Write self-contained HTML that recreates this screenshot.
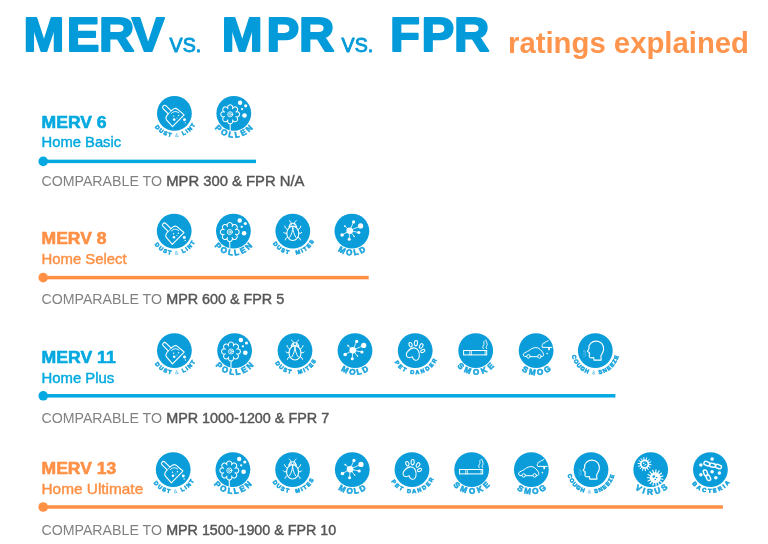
<!DOCTYPE html>
<html lang="en">
<head>
<meta charset="utf-8">
<title>MERV vs. MPR vs. FPR ratings explained</title>
<style>
html,body{margin:0;padding:0;background:#fff;}
body{width:768px;height:544px;overflow:hidden;font-family:"Liberation Sans",sans-serif;}
svg{display:block;}
svg text{font-family:"Liberation Sans",sans-serif;}
.ttl text{font-weight:700;stroke-width:2px;stroke-linejoin:round;}
.vs text{font-weight:400;stroke-width:0.9px;stroke-linejoin:round;}
.sub{font-weight:700;}
.t1{font-weight:700;font-size:17.2px;stroke-width:0.6px;stroke-linejoin:round;}
.t2{font-weight:400;font-size:14.3px;stroke-width:0.4px;}
.cmp{font-size:13.8px;}
.cl{fill:#828282;font-weight:400;}
.cb{fill:#555555;stroke:#555555;stroke-width:0.4px;font-weight:400;}
.lb{font-weight:700;stroke-width:0.6px;stroke-linejoin:round;}
</style>
</head>
<body>
<svg width="768" height="544" viewBox="0 0 768 544">
<g class="ttl" fill="#039bd9" stroke="#039bd9">
<text x="23.6 66.8 98.95 131.65" y="51.3" font-size="49">MERV</text>
<text x="221.7 266.6 299" y="51.3" font-size="49">MPR</text>
<text x="390.05 421.6 454.05" y="51.3" font-size="49">FPR</text>
</g>
<g class="vs" fill="#039bd9" stroke="#039bd9">
<text x="169.6" y="51.9" font-size="20.3" textLength="31.6" lengthAdjust="spacingAndGlyphs">VS.</text>
<text x="341.6" y="51.9" font-size="20.3" textLength="31.6" lengthAdjust="spacingAndGlyphs">VS.</text>
</g>
<text class="sub" x="508" y="52.6" font-size="29" fill="#ff944c" textLength="241" lengthAdjust="spacingAndGlyphs">ratings explained</text>
<g>
<text class="t1" x="41.6" y="127.8" fill="#03a9e0" stroke="#03a9e0" textLength="65.0" lengthAdjust="spacingAndGlyphs">MERV 6</text>
<text class="t2" x="41.5" y="146.6" fill="#03a9e0" stroke="#03a9e0" textLength="79.7" lengthAdjust="spacingAndGlyphs">Home Basic</text>
<rect x="43" y="159.65" width="213.00" height="3.5" fill="#03a9e0"/>
<circle cx="43.2" cy="161.40" r="4.8" fill="#03a9e0"/>
<text class="cmp" y="186.3"><tspan class="cl" x="41.4" textLength="120.6" lengthAdjust="spacingAndGlyphs">COMPARABLE TO</tspan> <tspan class="cb" x="166.2" textLength="138.2" lengthAdjust="spacingAndGlyphs">MPR 300 &amp; FPR N/A</tspan></text>
<g transform="translate(174.40,113.40)"><circle r="17.40" fill="#0a9dd9"/><g transform="translate(0,0.9) rotate(44.5) translate(0,1.85)" stroke="#fff" fill="none" stroke-linecap="round" stroke-linejoin="round" stroke-width="1.1">
<path d="M7.3,-8.3 L-1.8,-7.6 C-4,-7.2 -4.7,-4.6 -4.7,-2 L-11.8,-2 A2,2 0 0 0 -11.8,2 L-4.7,2 C-4.7,4.6 -4,7.2 -1.8,7.6 L7.3,8.3 Z"/>
<path d="M-4.6,-2 L-4.6,2" stroke-width="0.7"/>
<path d="M2.2,-6 C-1.4,-5.6 -2.7,-3.4 -2.7,-0.6" stroke-width="0.85"/>
</g>
<g transform="translate(0,0.9)"><circle cx="-0.7" cy="1.8" r="0.7" fill="#fff"/><circle cx="4.2" cy="1.2" r="0.7" fill="#fff"/><circle cx="-0.2" cy="5.3" r="1.3" fill="#fff"/><circle cx="2.6" cy="3.6" r="0.5" fill="#fff"/>
<circle cx="10.1" cy="5.5" r="1.45" fill="#fff"/><circle cx="11" cy="8.5" r="0.65" fill="#fff"/></g><g transform="rotate(-3.00)"><path id="p1" d="M-23.70,0 A23.70,23.70 0 0 0 23.70,0" fill="none"/><text class="lb" font-size="5.60" fill="#1ea5de" stroke="#1ea5de" textLength="48.00" lengthAdjust="spacing"><textPath href="#p1" startOffset="50%" text-anchor="middle" xml:space="preserve" textLength="48.00" lengthAdjust="spacing">DUST <tspan font-size="5.4" fill="#35ade3" stroke="none" font-weight="400">&amp;</tspan> LINT</textPath></text></g></g>

<g transform="translate(233.80,113.40)"><circle r="17.40" fill="#0a9dd9"/><g transform="translate(-3.6,0.9) scale(1.03)" stroke="#fff" fill="none" stroke-linecap="round" stroke-linejoin="round" stroke-width="1.0">
<path d="M5.45,2.26 A2.55,2.55 0 1 1 2.26,5.45 A2.55,2.55 0 1 1 -2.26,5.45 A2.55,2.55 0 1 1 -5.45,2.26 A2.55,2.55 0 1 1 -5.45,-2.26 A2.55,2.55 0 1 1 -2.26,-5.45 A2.55,2.55 0 1 1 2.26,-5.45 A2.55,2.55 0 1 1 5.45,-2.26 A2.55,2.55 0 1 1 5.45,2.26Z"/>
<circle r="2.5" stroke-width="0.8"/><circle r="1.1" stroke-width="0.7"/>
<path d="M0,9.3 L0,15.5"/>
</g>
<circle cx="6.3" cy="-10.6" r="2.2" fill="#fff"/><circle cx="11.9" cy="-7.6" r="1.6" fill="#fff"/><circle cx="8.3" cy="-4.3" r="1.15" fill="#fff"/><circle cx="10.7" cy="2.1" r="2.3" fill="#fff"/><g transform="rotate(0.00)"><path id="p2" d="M-24.20,0 A24.20,24.20 0 0 0 24.20,0" fill="none"/><text class="lb" font-size="8.10" fill="#1ea5de" stroke="#1ea5de" textLength="44.00" lengthAdjust="spacing"><textPath href="#p2" startOffset="50%" text-anchor="middle" xml:space="preserve" textLength="44.00" lengthAdjust="spacing">POLLEN</textPath></text></g></g>

</g>
<g>
<text class="t1" x="41.6" y="244.1" fill="#ff9045" stroke="#ff9045" textLength="64.9" lengthAdjust="spacingAndGlyphs">MERV 8</text>
<text class="t2" x="41.5" y="264.0" fill="#ff9045" stroke="#ff9045" textLength="85.2" lengthAdjust="spacingAndGlyphs">Home Select</text>
<rect x="43" y="275.85" width="325.70" height="3.5" fill="#ff9045"/>
<circle cx="43.2" cy="277.60" r="4.8" fill="#ff9045"/>
<text class="cmp" y="304.4"><tspan class="cl" x="41.4" textLength="120.6" lengthAdjust="spacingAndGlyphs">COMPARABLE TO</tspan> <tspan class="cb" x="166.2" textLength="118.0" lengthAdjust="spacingAndGlyphs">MPR 600 &amp; FPR 5</tspan></text>
<g transform="translate(174.20,231.10)"><circle r="17.40" fill="#0a9dd9"/><g transform="translate(0,0.9) rotate(44.5) translate(0,1.85)" stroke="#fff" fill="none" stroke-linecap="round" stroke-linejoin="round" stroke-width="1.1">
<path d="M7.3,-8.3 L-1.8,-7.6 C-4,-7.2 -4.7,-4.6 -4.7,-2 L-11.8,-2 A2,2 0 0 0 -11.8,2 L-4.7,2 C-4.7,4.6 -4,7.2 -1.8,7.6 L7.3,8.3 Z"/>
<path d="M-4.6,-2 L-4.6,2" stroke-width="0.7"/>
<path d="M2.2,-6 C-1.4,-5.6 -2.7,-3.4 -2.7,-0.6" stroke-width="0.85"/>
</g>
<g transform="translate(0,0.9)"><circle cx="-0.7" cy="1.8" r="0.7" fill="#fff"/><circle cx="4.2" cy="1.2" r="0.7" fill="#fff"/><circle cx="-0.2" cy="5.3" r="1.3" fill="#fff"/><circle cx="2.6" cy="3.6" r="0.5" fill="#fff"/>
<circle cx="10.1" cy="5.5" r="1.45" fill="#fff"/><circle cx="11" cy="8.5" r="0.65" fill="#fff"/></g><g transform="rotate(-3.00)"><path id="p3" d="M-23.70,0 A23.70,23.70 0 0 0 23.70,0" fill="none"/><text class="lb" font-size="5.60" fill="#1ea5de" stroke="#1ea5de" textLength="48.00" lengthAdjust="spacing"><textPath href="#p3" startOffset="50%" text-anchor="middle" xml:space="preserve" textLength="48.00" lengthAdjust="spacing">DUST <tspan font-size="5.4" fill="#35ade3" stroke="none" font-weight="400">&amp;</tspan> LINT</textPath></text></g></g>

<g transform="translate(233.40,231.10)"><circle r="17.40" fill="#0a9dd9"/><g transform="translate(-3.6,0.9) scale(1.03)" stroke="#fff" fill="none" stroke-linecap="round" stroke-linejoin="round" stroke-width="1.0">
<path d="M5.45,2.26 A2.55,2.55 0 1 1 2.26,5.45 A2.55,2.55 0 1 1 -2.26,5.45 A2.55,2.55 0 1 1 -5.45,2.26 A2.55,2.55 0 1 1 -5.45,-2.26 A2.55,2.55 0 1 1 -2.26,-5.45 A2.55,2.55 0 1 1 2.26,-5.45 A2.55,2.55 0 1 1 5.45,-2.26 A2.55,2.55 0 1 1 5.45,2.26Z"/>
<circle r="2.5" stroke-width="0.8"/><circle r="1.1" stroke-width="0.7"/>
<path d="M0,9.3 L0,15.5"/>
</g>
<circle cx="6.3" cy="-10.6" r="2.2" fill="#fff"/><circle cx="11.9" cy="-7.6" r="1.6" fill="#fff"/><circle cx="8.3" cy="-4.3" r="1.15" fill="#fff"/><circle cx="10.7" cy="2.1" r="2.3" fill="#fff"/><g transform="rotate(0.00)"><path id="p4" d="M-24.20,0 A24.20,24.20 0 0 0 24.20,0" fill="none"/><text class="lb" font-size="8.10" fill="#1ea5de" stroke="#1ea5de" textLength="44.00" lengthAdjust="spacing"><textPath href="#p4" startOffset="50%" text-anchor="middle" xml:space="preserve" textLength="44.00" lengthAdjust="spacing">POLLEN</textPath></text></g></g>

<g transform="translate(292.80,231.10)"><circle r="17.40" fill="#0a9dd9"/><g stroke="#fff" fill="none" stroke-linecap="round" stroke-linejoin="round" stroke-width="1.1">
<ellipse cx="0" cy="2.3" rx="6" ry="7.1"/>
<path d="M-3.5,-3.6 C-3.5,-6.5 -2,-7.8 0,-7.8 C2,-7.8 3.5,-6.5 3.5,-3.6"/>
<path d="M-3.9,-4.7 L3.9,-4.7" stroke-width="0.9"/>
<path d="M-1.5,-7.6 C-1.7,-8.8 -2.3,-9.7 -3.5,-10.5 M1.5,-7.6 C1.7,-8.8 2.3,-9.7 3.5,-10.5" stroke-width="0.95"/>
<path d="M-5.3,-1.4 L-7.5,-3.4 L-8,-5 M-5.9,2.1 L-8.3,2.1 L-9,1.2 M-5.2,6 L-7.2,7.5 L-7.5,8.8 M5.3,-1.4 L7.5,-3.4 L8,-5 M5.9,2.1 L8.3,2.1 L9,1.2 M5.2,6 L7.2,7.5 L7.5,8.8" stroke-width="0.95"/>
<path d="M0,-4.7 C0,0 -1.2,3.2 -3.1,6.2 M0,-4.7 C0,0 1.2,3.2 3.1,6.2" stroke-width="0.95"/>
</g>
<circle cx="-1.4" cy="-6.2" r="0.6" fill="#fff"/><circle cx="1.4" cy="-6.2" r="0.6" fill="#fff"/><g transform="rotate(-3.00)"><path id="p5" d="M-23.50,0 A23.50,23.50 0 0 0 23.50,0" fill="none"/><text class="lb" font-size="5.60" fill="#1ea5de" stroke="#1ea5de" textLength="50.00" lengthAdjust="spacing"><textPath href="#p5" startOffset="50%" text-anchor="middle" xml:space="preserve" textLength="50.00" lengthAdjust="spacing">DUST  MITES</textPath></text></g></g>

<g transform="translate(351.90,231.10)"><circle r="17.40" fill="#0a9dd9"/><g stroke="#fff" stroke-width="0.8" stroke-linecap="round"><path d="M-2.2,-0.4 L1.7,-9.2"/><path d="M-2.2,-0.4 L8.7,-5.2"/><path d="M-2.2,-0.4 L6.9,1.4"/><path d="M-2.2,-0.4 L2.4,5.4"/><path d="M-2.2,-0.4 L-2.7,8.1"/><path d="M-2.2,-0.4 L-9.8,3.9"/><path d="M-2.2,-0.4 L-7.0,-5.0"/></g><circle cx="-2.2" cy="-0.4" r="3.3" fill="#fff"/><circle cx="1.7" cy="-9.2" r="1.6" fill="#fff"/><circle cx="8.7" cy="-5.2" r="2.6" fill="#fff"/><circle cx="6.9" cy="1.4" r="1.6" fill="#fff"/><circle cx="2.4" cy="5.4" r="0.7" fill="#fff"/><circle cx="-2.7" cy="8.1" r="1.5" fill="#fff"/><circle cx="-9.8" cy="3.9" r="1.8" fill="#fff"/><circle cx="-7.0" cy="-5.0" r="0.9" fill="#fff"/><g transform="rotate(0.00)"><path id="p6" d="M-24.20,0 A24.20,24.20 0 0 0 24.20,0" fill="none"/><text class="lb" font-size="8.10" fill="#1ea5de" stroke="#1ea5de" textLength="30.00" lengthAdjust="spacing"><textPath href="#p6" startOffset="50%" text-anchor="middle" xml:space="preserve" textLength="30.00" lengthAdjust="spacing">MOLD</textPath></text></g></g>

</g>
<g>
<text class="t1" x="41.6" y="363.2" fill="#03a9e0" stroke="#03a9e0" textLength="74.1" lengthAdjust="spacingAndGlyphs">MERV 11</text>
<text class="t2" x="41.5" y="382.8" fill="#03a9e0" stroke="#03a9e0" textLength="72.8" lengthAdjust="spacingAndGlyphs">Home Plus</text>
<rect x="43" y="394.05" width="572.40" height="3.5" fill="#03a9e0"/>
<circle cx="43.2" cy="395.80" r="4.8" fill="#03a9e0"/>
<text class="cmp" y="422.8"><tspan class="cl" x="41.4" textLength="120.6" lengthAdjust="spacingAndGlyphs">COMPARABLE TO</tspan> <tspan class="cb" x="166.2" textLength="163.0" lengthAdjust="spacingAndGlyphs">MPR 1000-1200 &amp; FPR 7</tspan></text>
<g transform="translate(174.40,350.60)"><circle r="17.40" fill="#0a9dd9"/><g transform="translate(0,0.9) rotate(44.5) translate(0,1.85)" stroke="#fff" fill="none" stroke-linecap="round" stroke-linejoin="round" stroke-width="1.1">
<path d="M7.3,-8.3 L-1.8,-7.6 C-4,-7.2 -4.7,-4.6 -4.7,-2 L-11.8,-2 A2,2 0 0 0 -11.8,2 L-4.7,2 C-4.7,4.6 -4,7.2 -1.8,7.6 L7.3,8.3 Z"/>
<path d="M-4.6,-2 L-4.6,2" stroke-width="0.7"/>
<path d="M2.2,-6 C-1.4,-5.6 -2.7,-3.4 -2.7,-0.6" stroke-width="0.85"/>
</g>
<g transform="translate(0,0.9)"><circle cx="-0.7" cy="1.8" r="0.7" fill="#fff"/><circle cx="4.2" cy="1.2" r="0.7" fill="#fff"/><circle cx="-0.2" cy="5.3" r="1.3" fill="#fff"/><circle cx="2.6" cy="3.6" r="0.5" fill="#fff"/>
<circle cx="10.1" cy="5.5" r="1.45" fill="#fff"/><circle cx="11" cy="8.5" r="0.65" fill="#fff"/></g><g transform="rotate(-3.00)"><path id="p7" d="M-23.70,0 A23.70,23.70 0 0 0 23.70,0" fill="none"/><text class="lb" font-size="5.60" fill="#1ea5de" stroke="#1ea5de" textLength="48.00" lengthAdjust="spacing"><textPath href="#p7" startOffset="50%" text-anchor="middle" xml:space="preserve" textLength="48.00" lengthAdjust="spacing">DUST <tspan font-size="5.4" fill="#35ade3" stroke="none" font-weight="400">&amp;</tspan> LINT</textPath></text></g></g>

<g transform="translate(234.60,350.60)"><circle r="17.40" fill="#0a9dd9"/><g transform="translate(-3.6,0.9) scale(1.03)" stroke="#fff" fill="none" stroke-linecap="round" stroke-linejoin="round" stroke-width="1.0">
<path d="M5.45,2.26 A2.55,2.55 0 1 1 2.26,5.45 A2.55,2.55 0 1 1 -2.26,5.45 A2.55,2.55 0 1 1 -5.45,2.26 A2.55,2.55 0 1 1 -5.45,-2.26 A2.55,2.55 0 1 1 -2.26,-5.45 A2.55,2.55 0 1 1 2.26,-5.45 A2.55,2.55 0 1 1 5.45,-2.26 A2.55,2.55 0 1 1 5.45,2.26Z"/>
<circle r="2.5" stroke-width="0.8"/><circle r="1.1" stroke-width="0.7"/>
<path d="M0,9.3 L0,15.5"/>
</g>
<circle cx="6.3" cy="-10.6" r="2.2" fill="#fff"/><circle cx="11.9" cy="-7.6" r="1.6" fill="#fff"/><circle cx="8.3" cy="-4.3" r="1.15" fill="#fff"/><circle cx="10.7" cy="2.1" r="2.3" fill="#fff"/><g transform="rotate(0.00)"><path id="p8" d="M-24.20,0 A24.20,24.20 0 0 0 24.20,0" fill="none"/><text class="lb" font-size="8.10" fill="#1ea5de" stroke="#1ea5de" textLength="44.00" lengthAdjust="spacing"><textPath href="#p8" startOffset="50%" text-anchor="middle" xml:space="preserve" textLength="44.00" lengthAdjust="spacing">POLLEN</textPath></text></g></g>

<g transform="translate(295.00,350.60)"><circle r="17.40" fill="#0a9dd9"/><g stroke="#fff" fill="none" stroke-linecap="round" stroke-linejoin="round" stroke-width="1.1">
<ellipse cx="0" cy="2.3" rx="6" ry="7.1"/>
<path d="M-3.5,-3.6 C-3.5,-6.5 -2,-7.8 0,-7.8 C2,-7.8 3.5,-6.5 3.5,-3.6"/>
<path d="M-3.9,-4.7 L3.9,-4.7" stroke-width="0.9"/>
<path d="M-1.5,-7.6 C-1.7,-8.8 -2.3,-9.7 -3.5,-10.5 M1.5,-7.6 C1.7,-8.8 2.3,-9.7 3.5,-10.5" stroke-width="0.95"/>
<path d="M-5.3,-1.4 L-7.5,-3.4 L-8,-5 M-5.9,2.1 L-8.3,2.1 L-9,1.2 M-5.2,6 L-7.2,7.5 L-7.5,8.8 M5.3,-1.4 L7.5,-3.4 L8,-5 M5.9,2.1 L8.3,2.1 L9,1.2 M5.2,6 L7.2,7.5 L7.5,8.8" stroke-width="0.95"/>
<path d="M0,-4.7 C0,0 -1.2,3.2 -3.1,6.2 M0,-4.7 C0,0 1.2,3.2 3.1,6.2" stroke-width="0.95"/>
</g>
<circle cx="-1.4" cy="-6.2" r="0.6" fill="#fff"/><circle cx="1.4" cy="-6.2" r="0.6" fill="#fff"/><g transform="rotate(-3.00)"><path id="p9" d="M-23.50,0 A23.50,23.50 0 0 0 23.50,0" fill="none"/><text class="lb" font-size="5.60" fill="#1ea5de" stroke="#1ea5de" textLength="50.00" lengthAdjust="spacing"><textPath href="#p9" startOffset="50%" text-anchor="middle" xml:space="preserve" textLength="50.00" lengthAdjust="spacing">DUST  MITES</textPath></text></g></g>

<g transform="translate(355.00,350.60)"><circle r="17.40" fill="#0a9dd9"/><g stroke="#fff" stroke-width="0.8" stroke-linecap="round"><path d="M-2.2,-0.4 L1.7,-9.2"/><path d="M-2.2,-0.4 L8.7,-5.2"/><path d="M-2.2,-0.4 L6.9,1.4"/><path d="M-2.2,-0.4 L2.4,5.4"/><path d="M-2.2,-0.4 L-2.7,8.1"/><path d="M-2.2,-0.4 L-9.8,3.9"/><path d="M-2.2,-0.4 L-7.0,-5.0"/></g><circle cx="-2.2" cy="-0.4" r="3.3" fill="#fff"/><circle cx="1.7" cy="-9.2" r="1.6" fill="#fff"/><circle cx="8.7" cy="-5.2" r="2.6" fill="#fff"/><circle cx="6.9" cy="1.4" r="1.6" fill="#fff"/><circle cx="2.4" cy="5.4" r="0.7" fill="#fff"/><circle cx="-2.7" cy="8.1" r="1.5" fill="#fff"/><circle cx="-9.8" cy="3.9" r="1.8" fill="#fff"/><circle cx="-7.0" cy="-5.0" r="0.9" fill="#fff"/><g transform="rotate(0.00)"><path id="p10" d="M-24.20,0 A24.20,24.20 0 0 0 24.20,0" fill="none"/><text class="lb" font-size="8.10" fill="#1ea5de" stroke="#1ea5de" textLength="30.00" lengthAdjust="spacing"><textPath href="#p10" startOffset="50%" text-anchor="middle" xml:space="preserve" textLength="30.00" lengthAdjust="spacing">MOLD</textPath></text></g></g>

<g transform="translate(415.20,350.60)"><circle r="17.40" fill="#0a9dd9"/><g stroke="#fff" fill="none" stroke-linecap="round" stroke-linejoin="round" stroke-width="1.05">
<path transform="translate(-1.7,3.1) rotate(22)" d="M0,3.2 C-1,4.6 -2.5,5.8 -4.2,5.4 C-6.5,4.8 -7,2.4 -6.3,0.3 C-5.3,-3 -2.8,-5.8 0,-5.8 C2.8,-5.8 5.3,-3 6.3,0.3 C7,2.4 6.5,4.8 4.2,5.4 C2.5,5.8 1,4.6 0,3.2 Z"/>
<ellipse cx="-4.6" cy="-5.9" rx="1.5" ry="2.3" transform="rotate(-20 -4.6 -5.9)"/>
<ellipse cx="0.7" cy="-7.4" rx="1.6" ry="2.7" transform="rotate(5 0.7 -7.4)"/>
<ellipse cx="6" cy="-4.6" rx="1.55" ry="2.5" transform="rotate(32 6 -4.6)"/>
<ellipse cx="7.6" cy="0.4" rx="1.4" ry="2.2" transform="rotate(65 7.6 0.4)"/>
</g><g transform="rotate(-3.00)"><path id="p11" d="M-23.60,0 A23.60,23.60 0 0 0 23.60,0" fill="none"/><text class="lb" font-size="5.60" fill="#1ea5de" stroke="#1ea5de" textLength="52.00" lengthAdjust="spacing"><textPath href="#p11" startOffset="50%" text-anchor="middle" xml:space="preserve" textLength="52.00" lengthAdjust="spacing">PET DANDER</textPath></text></g></g>

<g transform="translate(475.70,350.60)"><circle r="17.40" fill="#0a9dd9"/><g stroke="#fff" fill="none" stroke-linecap="round" stroke-linejoin="round" stroke-width="1.0">
<rect x="-12.1" y="-0.1" width="23.1" height="4.4" stroke-linejoin="miter"/>
<path d="M-5.9,-0.1 L-5.9,4.3 M-4.3,-0.1 L-4.3,4.3 M9.4,-0.1 L9.4,4.3" stroke-width="0.8"/>
<path d="M7.6,-1.9 C5.6,-4.2 9.2,-5.6 8.2,-7.6 C7.7,-8.6 8.4,-9 8.8,-9.6 M11,-1.9 C9.2,-4 12.2,-5.2 11.3,-7.2 C10.7,-8.6 10.6,-9.6 10.2,-10.4" stroke-width="0.95"/>
</g><g transform="rotate(0.00)"><path id="p12" d="M-24.20,0 A24.20,24.20 0 0 0 24.20,0" fill="none"/><text class="lb" font-size="8.10" fill="#1ea5de" stroke="#1ea5de" textLength="42.00" lengthAdjust="spacing"><textPath href="#p12" startOffset="50%" text-anchor="middle" xml:space="preserve" textLength="42.00" lengthAdjust="spacing">SMOKE</textPath></text></g></g>

<g transform="translate(536.10,350.60)"><circle r="17.40" fill="#0a9dd9"/><g stroke="#fff" fill="none" stroke-linecap="round" stroke-linejoin="round" stroke-width="1.0">
<path d="M-9.7,6 L-11.3,5.9 C-13,5.6 -13.2,3.6 -12.2,2.8 C-11.4,2 -9,1.2 -7.2,0 C-5.5,-1.2 -4.4,-2.6 -0.5,-3 C2.4,-3.2 4.2,-1.2 5.6,0.4 C7,2 7.6,3.4 7.4,4.6 C7.3,5.6 6.6,6 5.5,6 M-5.5,6.1 L1.3,6.1"/>
<circle cx="-7.6" cy="5.8" r="1.75"/><circle cx="3.4" cy="5.8" r="1.75"/>
<path d="M6.6,-3.2 L15.8,-3.2"/>
<path d="M6.6,-3.2 A1.7,1.7 0 0 1 6.5,-6.1 A1.5,1.5 0 0 1 8.7,-7.5 A1.4,1.4 0 0 1 10.9,-8.8 L12.3,-10.4" stroke-width="0.95"/>
</g>
<path d="M11.9,-2.8 L13.8,-2.8 L13.7,-1.2 A0.85,0.85 0 0 1 12,-1.2 Z" fill="#fff"/>
<circle cx="11.05" cy="3" r="0.8" fill="#fff"/><g transform="rotate(-1.00)"><path id="p13" d="M-24.50,0 A24.50,24.50 0 0 0 24.50,0" fill="none"/><text class="lb" font-size="8.10" fill="#1ea5de" stroke="#1ea5de" textLength="32.00" lengthAdjust="spacing"><textPath href="#p13" startOffset="50%" text-anchor="middle" xml:space="preserve" textLength="32.00" lengthAdjust="spacing">SMOG</textPath></text></g></g>

<g transform="translate(595.30,350.60)"><circle r="17.40" fill="#0a9dd9"/><g stroke="#fff" fill="none" stroke-linecap="round" stroke-linejoin="round" stroke-width="1.1">
<path d="M-1.3,9.5 L-1.6,6.9 C-3,7.3 -5.4,7.5 -6,6 L-6.1,4.4 L-5.5,3.6 L-6.3,2.8 L-5.9,1.8 L-7.9,0.9 L-6.3,-2 C-7.2,-6 -3.6,-9.5 1,-9.5 C5.6,-9.5 8.3,-5.8 8.3,-1.6 C8.3,1.8 6.3,3.6 5.6,5.4 L5.9,9.5 Z"/>
<path d="M-9.4,2.3 L-12,0.8 M-9.8,3.5 L-12.4,3.5 M-9.4,4.7 L-11.8,6.2 M-10.2,1 L-11.4,-0.6" stroke-width="0.5" opacity="0.55"/>
</g><g transform="rotate(1.00)"><path id="p14" d="M-23.90,0 A23.90,23.90 0 0 0 23.90,0" fill="none"/><text class="lb" font-size="5.60" fill="#1ea5de" stroke="#1ea5de" textLength="64.00" lengthAdjust="spacing"><textPath href="#p14" startOffset="50%" text-anchor="middle" xml:space="preserve" textLength="64.00" lengthAdjust="spacing">COUGH <tspan font-size="5.4" fill="#35ade3" stroke="none" font-weight="400">&amp;</tspan> SNEEZE</textPath></text></g></g>

</g>
<g>
<text class="t1" x="41.6" y="474.0" fill="#ff9045" stroke="#ff9045" textLength="74.6" lengthAdjust="spacingAndGlyphs">MERV 13</text>
<text class="t2" x="41.5" y="494.3" fill="#ff9045" stroke="#ff9045" textLength="101.7" lengthAdjust="spacingAndGlyphs">Home Ultimate</text>
<rect x="43" y="505.25" width="679.90" height="3.5" fill="#ff9045"/>
<circle cx="43.2" cy="507.00" r="4.8" fill="#ff9045"/>
<text class="cmp" y="534.8"><tspan class="cl" x="41.4" textLength="120.6" lengthAdjust="spacingAndGlyphs">COMPARABLE TO</tspan> <tspan class="cb" x="166.2" textLength="170.0" lengthAdjust="spacingAndGlyphs">MPR 1500-1900 &amp; FPR 10</tspan></text>
<g transform="translate(173.20,469.60)"><circle r="17.40" fill="#0a9dd9"/><g transform="translate(0,0.9) rotate(44.5) translate(0,1.85)" stroke="#fff" fill="none" stroke-linecap="round" stroke-linejoin="round" stroke-width="1.1">
<path d="M7.3,-8.3 L-1.8,-7.6 C-4,-7.2 -4.7,-4.6 -4.7,-2 L-11.8,-2 A2,2 0 0 0 -11.8,2 L-4.7,2 C-4.7,4.6 -4,7.2 -1.8,7.6 L7.3,8.3 Z"/>
<path d="M-4.6,-2 L-4.6,2" stroke-width="0.7"/>
<path d="M2.2,-6 C-1.4,-5.6 -2.7,-3.4 -2.7,-0.6" stroke-width="0.85"/>
</g>
<g transform="translate(0,0.9)"><circle cx="-0.7" cy="1.8" r="0.7" fill="#fff"/><circle cx="4.2" cy="1.2" r="0.7" fill="#fff"/><circle cx="-0.2" cy="5.3" r="1.3" fill="#fff"/><circle cx="2.6" cy="3.6" r="0.5" fill="#fff"/>
<circle cx="10.1" cy="5.5" r="1.45" fill="#fff"/><circle cx="11" cy="8.5" r="0.65" fill="#fff"/></g><g transform="rotate(-3.00)"><path id="p15" d="M-23.70,0 A23.70,23.70 0 0 0 23.70,0" fill="none"/><text class="lb" font-size="5.60" fill="#1ea5de" stroke="#1ea5de" textLength="48.00" lengthAdjust="spacing"><textPath href="#p15" startOffset="50%" text-anchor="middle" xml:space="preserve" textLength="48.00" lengthAdjust="spacing">DUST <tspan font-size="5.4" fill="#35ade3" stroke="none" font-weight="400">&amp;</tspan> LINT</textPath></text></g></g>

<g transform="translate(232.89,469.60)"><circle r="17.40" fill="#0a9dd9"/><g transform="translate(-3.6,0.9) scale(1.03)" stroke="#fff" fill="none" stroke-linecap="round" stroke-linejoin="round" stroke-width="1.0">
<path d="M5.45,2.26 A2.55,2.55 0 1 1 2.26,5.45 A2.55,2.55 0 1 1 -2.26,5.45 A2.55,2.55 0 1 1 -5.45,2.26 A2.55,2.55 0 1 1 -5.45,-2.26 A2.55,2.55 0 1 1 -2.26,-5.45 A2.55,2.55 0 1 1 2.26,-5.45 A2.55,2.55 0 1 1 5.45,-2.26 A2.55,2.55 0 1 1 5.45,2.26Z"/>
<circle r="2.5" stroke-width="0.8"/><circle r="1.1" stroke-width="0.7"/>
<path d="M0,9.3 L0,15.5"/>
</g>
<circle cx="6.3" cy="-10.6" r="2.2" fill="#fff"/><circle cx="11.9" cy="-7.6" r="1.6" fill="#fff"/><circle cx="8.3" cy="-4.3" r="1.15" fill="#fff"/><circle cx="10.7" cy="2.1" r="2.3" fill="#fff"/><g transform="rotate(0.00)"><path id="p16" d="M-24.20,0 A24.20,24.20 0 0 0 24.20,0" fill="none"/><text class="lb" font-size="8.10" fill="#1ea5de" stroke="#1ea5de" textLength="44.00" lengthAdjust="spacing"><textPath href="#p16" startOffset="50%" text-anchor="middle" xml:space="preserve" textLength="44.00" lengthAdjust="spacing">POLLEN</textPath></text></g></g>

<g transform="translate(292.58,469.60)"><circle r="17.40" fill="#0a9dd9"/><g stroke="#fff" fill="none" stroke-linecap="round" stroke-linejoin="round" stroke-width="1.1">
<ellipse cx="0" cy="2.3" rx="6" ry="7.1"/>
<path d="M-3.5,-3.6 C-3.5,-6.5 -2,-7.8 0,-7.8 C2,-7.8 3.5,-6.5 3.5,-3.6"/>
<path d="M-3.9,-4.7 L3.9,-4.7" stroke-width="0.9"/>
<path d="M-1.5,-7.6 C-1.7,-8.8 -2.3,-9.7 -3.5,-10.5 M1.5,-7.6 C1.7,-8.8 2.3,-9.7 3.5,-10.5" stroke-width="0.95"/>
<path d="M-5.3,-1.4 L-7.5,-3.4 L-8,-5 M-5.9,2.1 L-8.3,2.1 L-9,1.2 M-5.2,6 L-7.2,7.5 L-7.5,8.8 M5.3,-1.4 L7.5,-3.4 L8,-5 M5.9,2.1 L8.3,2.1 L9,1.2 M5.2,6 L7.2,7.5 L7.5,8.8" stroke-width="0.95"/>
<path d="M0,-4.7 C0,0 -1.2,3.2 -3.1,6.2 M0,-4.7 C0,0 1.2,3.2 3.1,6.2" stroke-width="0.95"/>
</g>
<circle cx="-1.4" cy="-6.2" r="0.6" fill="#fff"/><circle cx="1.4" cy="-6.2" r="0.6" fill="#fff"/><g transform="rotate(-3.00)"><path id="p17" d="M-23.50,0 A23.50,23.50 0 0 0 23.50,0" fill="none"/><text class="lb" font-size="5.60" fill="#1ea5de" stroke="#1ea5de" textLength="50.00" lengthAdjust="spacing"><textPath href="#p17" startOffset="50%" text-anchor="middle" xml:space="preserve" textLength="50.00" lengthAdjust="spacing">DUST  MITES</textPath></text></g></g>

<g transform="translate(352.27,469.60)"><circle r="17.40" fill="#0a9dd9"/><g stroke="#fff" stroke-width="0.8" stroke-linecap="round"><path d="M-2.2,-0.4 L1.7,-9.2"/><path d="M-2.2,-0.4 L8.7,-5.2"/><path d="M-2.2,-0.4 L6.9,1.4"/><path d="M-2.2,-0.4 L2.4,5.4"/><path d="M-2.2,-0.4 L-2.7,8.1"/><path d="M-2.2,-0.4 L-9.8,3.9"/><path d="M-2.2,-0.4 L-7.0,-5.0"/></g><circle cx="-2.2" cy="-0.4" r="3.3" fill="#fff"/><circle cx="1.7" cy="-9.2" r="1.6" fill="#fff"/><circle cx="8.7" cy="-5.2" r="2.6" fill="#fff"/><circle cx="6.9" cy="1.4" r="1.6" fill="#fff"/><circle cx="2.4" cy="5.4" r="0.7" fill="#fff"/><circle cx="-2.7" cy="8.1" r="1.5" fill="#fff"/><circle cx="-9.8" cy="3.9" r="1.8" fill="#fff"/><circle cx="-7.0" cy="-5.0" r="0.9" fill="#fff"/><g transform="rotate(0.00)"><path id="p18" d="M-24.20,0 A24.20,24.20 0 0 0 24.20,0" fill="none"/><text class="lb" font-size="8.10" fill="#1ea5de" stroke="#1ea5de" textLength="30.00" lengthAdjust="spacing"><textPath href="#p18" startOffset="50%" text-anchor="middle" xml:space="preserve" textLength="30.00" lengthAdjust="spacing">MOLD</textPath></text></g></g>

<g transform="translate(411.96,469.60)"><circle r="17.40" fill="#0a9dd9"/><g stroke="#fff" fill="none" stroke-linecap="round" stroke-linejoin="round" stroke-width="1.05">
<path transform="translate(-1.7,3.1) rotate(22)" d="M0,3.2 C-1,4.6 -2.5,5.8 -4.2,5.4 C-6.5,4.8 -7,2.4 -6.3,0.3 C-5.3,-3 -2.8,-5.8 0,-5.8 C2.8,-5.8 5.3,-3 6.3,0.3 C7,2.4 6.5,4.8 4.2,5.4 C2.5,5.8 1,4.6 0,3.2 Z"/>
<ellipse cx="-4.6" cy="-5.9" rx="1.5" ry="2.3" transform="rotate(-20 -4.6 -5.9)"/>
<ellipse cx="0.7" cy="-7.4" rx="1.6" ry="2.7" transform="rotate(5 0.7 -7.4)"/>
<ellipse cx="6" cy="-4.6" rx="1.55" ry="2.5" transform="rotate(32 6 -4.6)"/>
<ellipse cx="7.6" cy="0.4" rx="1.4" ry="2.2" transform="rotate(65 7.6 0.4)"/>
</g><g transform="rotate(-3.00)"><path id="p19" d="M-23.60,0 A23.60,23.60 0 0 0 23.60,0" fill="none"/><text class="lb" font-size="5.60" fill="#1ea5de" stroke="#1ea5de" textLength="52.00" lengthAdjust="spacing"><textPath href="#p19" startOffset="50%" text-anchor="middle" xml:space="preserve" textLength="52.00" lengthAdjust="spacing">PET DANDER</textPath></text></g></g>

<g transform="translate(471.65,469.60)"><circle r="17.40" fill="#0a9dd9"/><g stroke="#fff" fill="none" stroke-linecap="round" stroke-linejoin="round" stroke-width="1.0">
<rect x="-12.1" y="-0.1" width="23.1" height="4.4" stroke-linejoin="miter"/>
<path d="M-5.9,-0.1 L-5.9,4.3 M-4.3,-0.1 L-4.3,4.3 M9.4,-0.1 L9.4,4.3" stroke-width="0.8"/>
<path d="M7.6,-1.9 C5.6,-4.2 9.2,-5.6 8.2,-7.6 C7.7,-8.6 8.4,-9 8.8,-9.6 M11,-1.9 C9.2,-4 12.2,-5.2 11.3,-7.2 C10.7,-8.6 10.6,-9.6 10.2,-10.4" stroke-width="0.95"/>
</g><g transform="rotate(0.00)"><path id="p20" d="M-24.20,0 A24.20,24.20 0 0 0 24.20,0" fill="none"/><text class="lb" font-size="8.10" fill="#1ea5de" stroke="#1ea5de" textLength="42.00" lengthAdjust="spacing"><textPath href="#p20" startOffset="50%" text-anchor="middle" xml:space="preserve" textLength="42.00" lengthAdjust="spacing">SMOKE</textPath></text></g></g>

<g transform="translate(531.34,469.60)"><circle r="17.40" fill="#0a9dd9"/><g stroke="#fff" fill="none" stroke-linecap="round" stroke-linejoin="round" stroke-width="1.0">
<path d="M-9.7,6 L-11.3,5.9 C-13,5.6 -13.2,3.6 -12.2,2.8 C-11.4,2 -9,1.2 -7.2,0 C-5.5,-1.2 -4.4,-2.6 -0.5,-3 C2.4,-3.2 4.2,-1.2 5.6,0.4 C7,2 7.6,3.4 7.4,4.6 C7.3,5.6 6.6,6 5.5,6 M-5.5,6.1 L1.3,6.1"/>
<circle cx="-7.6" cy="5.8" r="1.75"/><circle cx="3.4" cy="5.8" r="1.75"/>
<path d="M6.6,-3.2 L15.8,-3.2"/>
<path d="M6.6,-3.2 A1.7,1.7 0 0 1 6.5,-6.1 A1.5,1.5 0 0 1 8.7,-7.5 A1.4,1.4 0 0 1 10.9,-8.8 L12.3,-10.4" stroke-width="0.95"/>
</g>
<path d="M11.9,-2.8 L13.8,-2.8 L13.7,-1.2 A0.85,0.85 0 0 1 12,-1.2 Z" fill="#fff"/>
<circle cx="11.05" cy="3" r="0.8" fill="#fff"/><g transform="rotate(-1.00)"><path id="p21" d="M-24.50,0 A24.50,24.50 0 0 0 24.50,0" fill="none"/><text class="lb" font-size="8.10" fill="#1ea5de" stroke="#1ea5de" textLength="32.00" lengthAdjust="spacing"><textPath href="#p21" startOffset="50%" text-anchor="middle" xml:space="preserve" textLength="32.00" lengthAdjust="spacing">SMOG</textPath></text></g></g>

<g transform="translate(591.03,469.60)"><circle r="17.40" fill="#0a9dd9"/><g stroke="#fff" fill="none" stroke-linecap="round" stroke-linejoin="round" stroke-width="1.1">
<path d="M-1.3,9.5 L-1.6,6.9 C-3,7.3 -5.4,7.5 -6,6 L-6.1,4.4 L-5.5,3.6 L-6.3,2.8 L-5.9,1.8 L-7.9,0.9 L-6.3,-2 C-7.2,-6 -3.6,-9.5 1,-9.5 C5.6,-9.5 8.3,-5.8 8.3,-1.6 C8.3,1.8 6.3,3.6 5.6,5.4 L5.9,9.5 Z"/>
<path d="M-9.4,2.3 L-12,0.8 M-9.8,3.5 L-12.4,3.5 M-9.4,4.7 L-11.8,6.2 M-10.2,1 L-11.4,-0.6" stroke-width="0.5" opacity="0.55"/>
</g><g transform="rotate(1.00)"><path id="p22" d="M-23.90,0 A23.90,23.90 0 0 0 23.90,0" fill="none"/><text class="lb" font-size="5.60" fill="#1ea5de" stroke="#1ea5de" textLength="64.00" lengthAdjust="spacing"><textPath href="#p22" startOffset="50%" text-anchor="middle" xml:space="preserve" textLength="64.00" lengthAdjust="spacing">COUGH <tspan font-size="5.4" fill="#35ade3" stroke="none" font-weight="400">&amp;</tspan> SNEEZE</textPath></text></g></g>

<g transform="translate(650.72,469.60)"><circle r="17.40" fill="#0a9dd9"/><path d="M-1.72,-5.06 L0.47,-4.84 M-2.35,-3.20 L-0.47,-2.06 M-3.71,-1.80 L-2.52,0.05 M-5.55,-1.13 L-5.28,1.05 M-7.50,-1.33 L-8.20,0.76 M-9.17,-2.35 L-10.71,-0.78 M-10.24,-4.00 L-12.30,-3.24 M-10.48,-5.94 L-12.67,-6.16 M-9.85,-7.80 L-11.73,-8.94 M-8.49,-9.20 L-9.68,-11.05 M-6.65,-9.87 L-6.92,-12.05 M-4.70,-9.67 L-4.00,-11.76 M-3.03,-8.65 L-1.49,-10.22 M-1.96,-7.00 L0.10,-7.76" stroke="#fff" stroke-width="1.00" stroke-linecap="round" fill="none"/><circle cx="-6.1" cy="-5.5" r="3.8" fill="none" stroke="#fff" stroke-width="1.7"/><circle cx="-7" cy="-6.3" r="0.8" fill="#fff"/><circle cx="-5" cy="-5" r="0.7" fill="#fff"/><circle cx="-6.4" cy="-4.2" r="0.5" fill="#fff"/><path d="M9.40,9.09 L12.24,9.67 M8.57,11.00 L10.93,12.68 M7.04,12.41 L8.51,14.90 M5.07,13.07 L5.40,15.95 M3.00,12.87 L2.13,15.64 M1.19,11.85 L-0.73,14.02 M-0.05,10.18 L-2.69,11.38 M-0.50,8.15 L-3.40,8.17 M-0.09,6.11 L-2.75,4.96 M1.12,4.42 L-0.84,2.28 M2.91,3.36 L1.99,0.61 M4.98,3.12 L5.25,0.24 M6.96,3.75 L8.39,1.22 M8.52,5.12 L10.85,3.40 M9.38,7.01 L12.21,6.38" stroke="#fff" stroke-width="1.15" stroke-linecap="round" fill="none"/><circle cx="4.5" cy="8.1" r="5.4" fill="#fff"/><circle cx="3" cy="7" r="1.25" fill="#0a9dd9"/><circle cx="5.9" cy="7.9" r="0.85" fill="#0a9dd9"/><circle cx="4.6" cy="9.9" r="0.8" fill="#0a9dd9"/><g transform="rotate(-2.00)"><path id="p23" d="M-25.00,0 A25.00,25.00 0 0 0 25.00,0" fill="none"/><text class="lb" font-size="8.10" fill="#1ea5de" stroke="#1ea5de" textLength="36.00" lengthAdjust="spacing"><textPath href="#p23" startOffset="50%" text-anchor="middle" xml:space="preserve" textLength="36.00" lengthAdjust="spacing">VIRUS</textPath></text></g></g>

<g transform="translate(710.41,469.60)"><circle r="17.40" fill="#0a9dd9"/><rect x="-6.60" y="-7.80" width="6.20" height="3.60" rx="1.80" transform="rotate(22.0 -3.50 -6.00)" stroke="#fff" stroke-width="1.40" fill="none"/><rect x="-1.00" y="-6.20" width="6.20" height="3.60" rx="1.80" transform="rotate(12.0 2.10 -4.40)" stroke="#fff" stroke-width="1.40" fill="none"/><rect x="4.90" y="-4.80" width="6.20" height="3.60" rx="1.80" transform="rotate(22.0 8.00 -3.00)" stroke="#fff" stroke-width="1.40" fill="none"/><rect x="-7.90" y="1.45" width="6.00" height="3.50" rx="1.75" transform="rotate(68.0 -4.90 3.20)" stroke="#fff" stroke-width="1.40" fill="none"/><rect x="-5.10" y="6.35" width="6.00" height="3.50" rx="1.75" transform="rotate(62.0 -2.10 8.10)" stroke="#fff" stroke-width="1.40" fill="none"/><circle cx="1.7" cy="-10.6" r="1.75" fill="#fff"/><circle cx="-9.5" cy="-4.5" r="1.75" fill="#fff"/><circle cx="1.7" cy="2.1" r="1.75" fill="#fff"/><circle cx="8.9" cy="3.3" r="1.75" fill="#fff"/><circle cx="-9.5" cy="5.1" r="1.75" fill="#fff"/><circle cx="5.4" cy="8.1" r="1.75" fill="#fff"/><g transform="rotate(-2.00)"><path id="p24" d="M-23.30,0 A23.30,23.30 0 0 0 23.30,0" fill="none"/><text class="lb" font-size="5.60" fill="#1ea5de" stroke="#1ea5de" textLength="44.00" lengthAdjust="spacing"><textPath href="#p24" startOffset="50%" text-anchor="middle" xml:space="preserve" textLength="44.00" lengthAdjust="spacing">BACTERIA</textPath></text></g></g>

</g>
</svg>
</body>
</html>
